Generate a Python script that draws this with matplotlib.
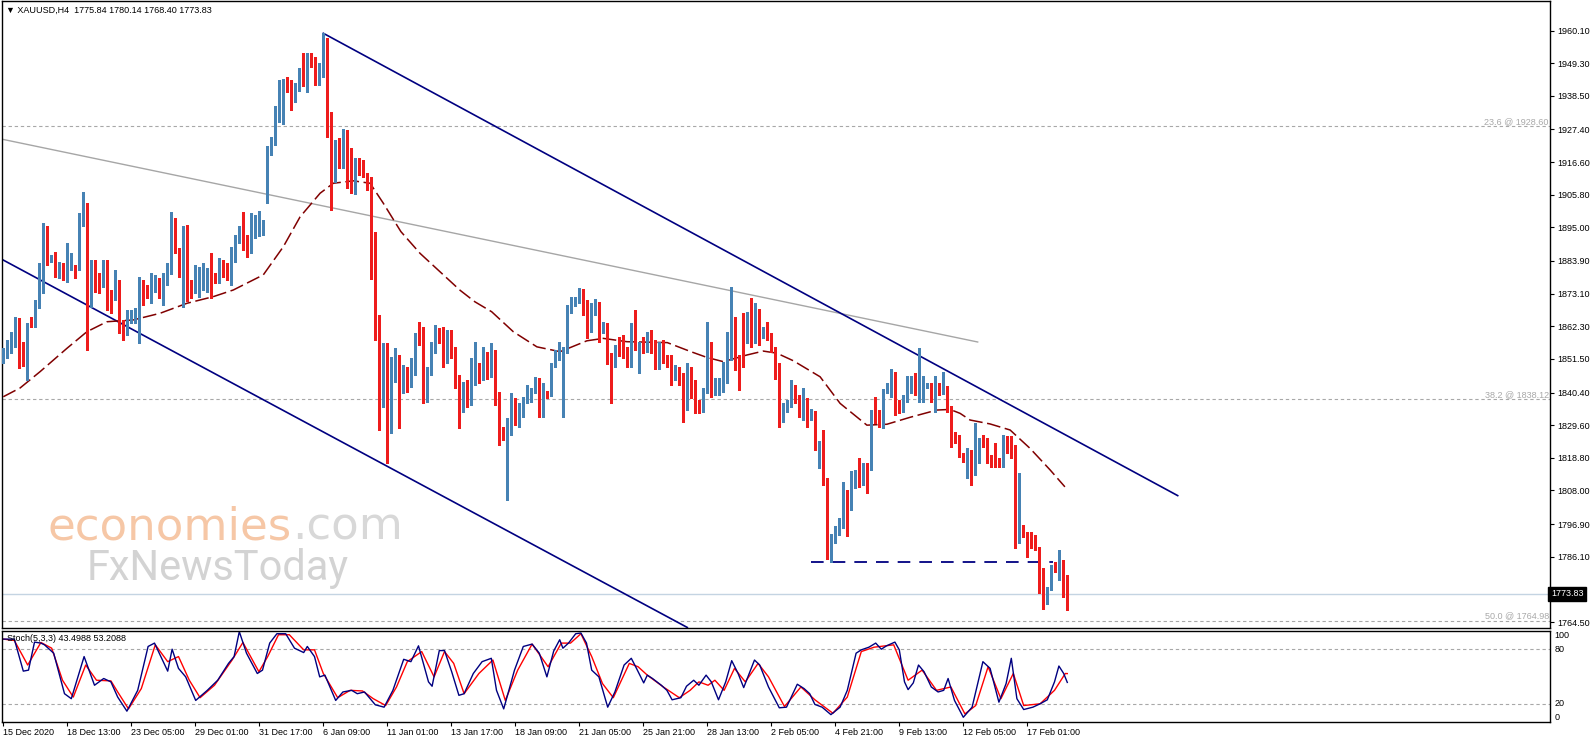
import matplotlib
matplotlib.use("Agg")
import matplotlib.pyplot as plt
import numpy as np

# ---------------- data ----------------
opens = [1851.2,1853.2,1856.7,1856.9,1863.3,1855.0,1855.6,1864.1,1863.3,1868.8,
         1874.9,1892.2,1884.2,1885.9,1879.6,1882.0,1878.7,1881.5,1882.0,1882.0,
         1896.9,1899.7,1869.4,1880.4,1877.1,1876.5,1883.1,1872.7,1872.4,1874.1,
         1862.2,1860.0,1863.8,1864.4,1865.5,1876.5,1874.9,1873.2,1876.5,1877.1,
         1872.1,1876.5,1880.0,1896.4,1887.0,1879.3,1894.2,1876.0,1874.3,1877.6,
         1877.9,1877.6,1878.2,1877.6,1877.6,1882.6,1882.0,1878.7,1887.0,1890.3,
         1894.2,1890.8,1887.0,1892.8,1893.0,1893.0,1903.5,1921.7,1922.8,1933.6,
         1941.6,1943.8,1943.2,1939.4,1940.7,1947.1,1945.4,1951.3,1949.8,1943.8,
         1945.1,1956.8,1932.7,1911.2,1919.5,1915.6,1926.6,1911.5,1909.8,1915.1,
         1914.8,1912.0,1910.7,1890.8,1864.9,1837.9,1848.7,1835.2,1846.2,1852.0,
         1841.8,1846.7,1843.7,1846.7,1859.7,1859.7,1841.2,1846.7,1854.5,1859.4,
         1859.1,1853.9,1858.0,1854.7,1845.1,1839.0,1841.2,1838.5,1844.5,1848.9,
         1845.6,1852.0,1846.2,1853.9,1839.0,1828.2,1827.4,1828.2,1837.9,1832.2,
         1833.3,1837.4,1839.0,1840.3,1844.8,1835.5,1840.7,1840.1,1849.5,1852.0,
         1853.3,1855.0,1868.6,1871.0,1871.2,1874.1,1869.9,1863.8,1867.1,1870.1,
         1860.5,1861.3,1852.0,1850.0,1855.8,1854.5,1854.2,1850.0,1862.7,1855.6,
         1856.9,1855.8,1860.5,1854.7,1848.9,1856.1,1851.7,1851.1,1846.5,1848.1,
         1846.2,1836.8,1844.8,1841.0,1837.4,1836.8,1841.2,1854.5,1840.3,1841.4,
         1842.5,1849.8,1857.2,1864.9,1851.7,1862.7,1861.1,1865.5,1859.7,1863.5,
         1860.2,1860.2,1858.9,1855.0,1848.9,1833.5,1835.2,1837.4,1842.1,1838.5,
         1834.1,1835.2,1833.3,1833.8,1822.5,1823.4,1811.0,1787.0,1791.7,1794.1,
         1796.3,1807.1,1802.1,1809.3,1815.4,1810.4,1815.7,1815.0,1831.6,1831.1,
         1829.7,1840.7,1839.6,1841.5,1836.6,1834.6,1837.7,1841.3,1843.2,1841.0,
         1841.0,1842.1,1842.9,1837.7,1842.1,1840.2,1842.1,1835.0,1825.3,1825.0,
         1819.4,1818.3,1820.3,1813.9,1821.9,1824.7,1824.7,1818.3,1818.3,1818.1,
         1818.6,1823.4,1823.0,1822.5,1790.8,1796.3,1794.0,1793.8,1792.5,1788.9,
         1781.1,1774.5,1775.6,1782.8,1781.7,1784.4,1775.84]
highs = [1855.0,1857.8,1860.5,1865.5,1865.0,1857.2,1863.3,1865.5,1871.0,1883.1,
         1896.4,1895.5,1885.9,1886.7,1883.7,1883.1,1889.7,1886.4,1882.6,1899.7,
         1906.8,1903.0,1884.2,1884.2,1879.8,1884.2,1884.2,1874.3,1880.9,1877.6,
         1864.4,1867.7,1867.7,1868.3,1878.7,1877.6,1876.0,1879.8,1879.3,1878.2,
         1879.8,1883.1,1900.2,1898.0,1888.1,1895.3,1895.8,1877.6,1882.6,1882.0,
         1883.1,1881.5,1886.4,1879.8,1884.8,1884.2,1883.1,1888.6,1892.5,1895.3,
         1900.2,1892.5,1899.7,1899.1,1900.5,1897.5,1921.9,1925.0,1935.2,1943.8,
         1944.0,1944.6,1943.8,1942.7,1947.6,1952.6,1952.6,1952.6,1951.5,1949.3,
         1959.2,1957.5,1933.3,1923.9,1924.4,1927.4,1927.2,1921.1,1917.8,1917.8,
         1917.3,1912.9,1911.8,1893.6,1866.0,1856.7,1856.7,1852.3,1855.0,1852.8,
         1849.5,1848.9,1851.7,1860.2,1863.8,1862.2,1848.9,1857.2,1862.7,1861.6,
         1862.2,1861.1,1861.1,1855.6,1846.2,1844.0,1844.5,1851.7,1857.2,1850.0,
         1855.6,1853.9,1856.7,1854.5,1840.7,1829.1,1831.9,1840.1,1838.5,1836.8,
         1838.8,1842.9,1841.8,1845.4,1845.1,1843.4,1841.0,1850.0,1854.5,1857.2,
         1855.6,1869.3,1872.1,1872.1,1874.8,1874.5,1871.0,1869.9,1871.2,1870.4,
         1863.8,1863.3,1853.4,1856.1,1858.9,1859.4,1855.6,1863.3,1867.7,1857.2,
         1858.9,1860.5,1861.1,1857.8,1857.2,1857.8,1852.8,1852.8,1849.5,1848.9,
         1846.7,1850.3,1848.9,1844.5,1837.9,1841.8,1863.8,1857.2,1845.1,1845.1,
         1850.6,1860.5,1875.4,1865.5,1852.8,1866.8,1867.1,1871.5,1869.9,1867.9,
         1862.2,1863.8,1860.0,1855.6,1850.0,1836.8,1837.9,1844.5,1842.9,1839.6,
         1841.8,1838.5,1834.9,1834.4,1824.2,1828.0,1812.0,1793.5,1796.1,1798.8,
         1810.9,1808.2,1814.3,1814.8,1818.7,1817.2,1817.2,1834.6,1839.0,1834.6,
         1841.5,1843.5,1848.1,1847.3,1837.9,1839.6,1845.7,1845.9,1847.0,1855.0,
         1845.7,1843.5,1843.7,1845.7,1843.7,1847.3,1842.6,1836.0,1827.4,1826.3,
         1820.5,1821.9,1821.4,1830.2,1825.2,1826.3,1825.2,1819.7,1823.6,1818.6,
         1826.3,1826.0,1826.0,1823.0,1813.7,1796.6,1794.4,1794.4,1793.3,1789.4,
         1782.2,1776.2,1783.3,1784.4,1788.3,1785.0,1780.14]
lows = [1850.1,1851.7,1853.4,1855.6,1848.4,1849.0,1844.6,1862.2,1862.2,1868.3,
        1873.2,1882.6,1883.7,1878.5,1878.2,1877.6,1877.1,1880.9,1878.2,1880.9,
        1895.3,1854.5,1868.8,1873.8,1873.2,1875.4,1867.7,1866.6,1871.0,1860.0,
        1857.8,1859.4,1863.3,1863.3,1856.7,1869.4,1871.6,1869.9,1873.8,1871.6,
        1869.4,1876.0,1879.5,1886.4,1878.7,1868.8,1870.5,1871.6,1873.2,1872.1,
        1874.3,1873.8,1871.6,1876.5,1876.5,1878.7,1877.6,1876.0,1883.7,1889.7,
        1887.5,1885.3,1886.4,1891.4,1892.2,1892.5,1903.2,1919.0,1922.3,1930.0,
        1929.2,1939.9,1933.8,1936.6,1940.2,1941.6,1939.9,1948.2,1942.1,1942.1,
        1944.9,1925.0,1900.8,1910.1,1914.5,1914.5,1907.9,1906.5,1906.2,1912.3,
        1911.8,1907.4,1878.1,1857.8,1828.0,1835.7,1817.0,1826.9,1844.0,1828.6,
        1840.1,1840.7,1842.3,1846.2,1856.1,1836.8,1837.4,1846.2,1853.4,1856.7,
        1848.9,1850.0,1851.7,1841.8,1828.6,1834.1,1835.7,1836.3,1842.9,1843.4,
        1844.5,1844.8,1845.5,1836.3,1823.0,1824.7,1804.8,1826.3,1829.7,1829.1,
        1832.4,1836.8,1837.4,1840.1,1832.4,1832.4,1838.5,1839.2,1848.9,1851.1,
        1832.4,1853.6,1866.6,1869.0,1869.9,1866.0,1858.3,1860.5,1866.0,1857.2,
        1860.0,1849.8,1836.8,1848.7,1852.5,1851.7,1848.9,1848.9,1854.5,1846.7,
        1853.4,1853.9,1853.4,1848.1,1848.1,1850.3,1848.9,1842.9,1844.5,1842.9,
        1830.8,1834.6,1838.5,1833.5,1833.5,1834.1,1840.1,1839.0,1839.6,1839.6,
        1840.7,1843.4,1851.1,1847.8,1841.2,1848.9,1856.7,1855.6,1856.7,1856.1,
        1858.3,1857.8,1853.9,1844.8,1829.1,1830.8,1834.1,1835.7,1836.8,1832.4,
        1831.3,1829.1,1831.3,1821.4,1815.4,1809.8,1785.5,1784.5,1790.6,1793.3,
        1795.5,1792.8,1801.6,1808.8,1809.3,1809.8,1807.3,1814.8,1830.2,1829.1,
        1828.6,1840.2,1839.0,1833.0,1833.5,1834.1,1837.4,1840.4,1839.6,1837.4,
        1837.4,1841.8,1837.1,1834.1,1839.6,1839.9,1833.8,1822.5,1823.6,1819.2,
        1817.5,1812.0,1809.8,1813.1,1817.0,1822.5,1817.0,1815.9,1815.9,1815.9,
        1815.9,1820.3,1818.6,1788.9,1790.5,1792.7,1786.1,1788.9,1788.3,1774.0,
        1768.7,1770.4,1775.1,1781.1,1778.4,1772.9,1768.40]
closes = [1853.9,1856.9,1857.2,1863.3,1854.5,1853.9,1861.1,1863.5,1869.4,1874.9,
          1892.2,1884.0,1885.3,1879.8,1882.9,1878.7,1881.8,1882.0,1881.1,1896.9,
          1899.7,1869.4,1880.4,1876.9,1876.5,1883.4,1872.7,1869.4,1874.1,1860.5,
          1858.0,1865.5,1864.4,1865.0,1876.5,1872.7,1873.0,1877.1,1877.1,1872.1,
          1877.1,1879.3,1896.9,1887.0,1879.3,1894.2,1876.0,1873.2,1878.2,1878.2,
          1878.4,1878.2,1877.4,1877.1,1883.1,1881.8,1878.7,1887.5,1890.3,1894.4,
          1890.8,1887.0,1893.0,1893.3,1893.6,1896.9,1921.7,1922.8,1933.6,1941.6,
          1943.5,1942.4,1939.4,1940.7,1947.1,1945.4,1951.3,1949.8,1943.8,1945.1,
          1956.8,1932.7,1911.2,1918.4,1915.6,1926.6,1909.8,1909.8,1915.3,1914.2,
          1912.3,1908.7,1890.8,1864.4,1837.9,1849.5,1835.2,1846.2,1851.7,1841.8,
          1846.7,1842.1,1847.3,1859.7,1859.3,1841.2,1846.7,1854.5,1859.4,1858.6,
          1853.9,1858.0,1854.5,1844.8,1839.0,1841.2,1838.5,1844.5,1848.9,1845.6,
          1852.0,1846.2,1853.9,1839.0,1827.8,1827.8,1828.2,1837.9,1831.9,1833.3,
          1837.7,1839.2,1840.7,1844.8,1835.5,1840.3,1839.9,1849.5,1852.2,1853.9,
          1855.0,1868.6,1871.2,1871.5,1874.1,1869.9,1863.8,1867.5,1869.3,1860.5,
          1861.6,1851.7,1850.0,1855.6,1854.5,1853.6,1850.0,1862.4,1855.0,1856.7,
          1855.6,1860.2,1854.5,1848.9,1856.1,1851.1,1850.3,1847.3,1847.8,1845.9,
          1836.8,1845.1,1840.7,1836.8,1836.8,1841.2,1854.5,1840.1,1841.4,1842.5,
          1849.8,1857.2,1864.9,1851.4,1847.8,1861.1,1865.5,1859.7,1863.5,1861.1,
          1860.5,1858.3,1855.0,1848.9,1834.6,1835.2,1837.4,1842.1,1838.5,1834.1,
          1835.5,1833.5,1833.8,1822.3,1823.6,1810.9,1787.0,1792.2,1794.4,1796.6,
          1807.1,1802.1,1809.5,1813.7,1810.4,1815.7,1815.0,1831.6,1830.8,1829.7,
          1841.3,1841.5,1841.5,1836.3,1834.4,1837.9,1841.5,1843.2,1841.3,1841.5,
          1842.6,1842.6,1837.4,1843.2,1840.2,1842.1,1834.1,1824.7,1824.6,1820.3,
          1818.3,1820.3,1813.9,1821.9,1824.1,1824.1,1818.1,1817.5,1817.5,1817.2,
          1823.0,1822.7,1822.5,1791.1,1796.0,1794.0,1793.3,1792.2,1788.9,1781.1,
          1774.5,1775.6,1782.8,1781.7,1784.4,1775.6,1773.83]

# moving average (dashed maroon), read as (bar, price)
ma_bar = [0, 4.2, 9.2, 15.9, 20.9, 25.9, 32.5, 39.2, 45.9, 52.5, 57.5, 65.0, 70.0,
          74.2, 79.2, 82.5, 87.5, 91.7, 95.0, 99.4, 104.2, 109.2, 114.2, 117.9,
          122.1, 127.5, 133.4, 139.2, 145.9, 150.0, 155.9, 166.0, 171.9, 175.9,
          180.0, 185.9, 190.0, 193.4, 197.5, 204.2, 209.2, 215.9, 220.9, 226.7,
          233.4, 236.7, 239.2, 241.7, 246.7, 251.7, 256.7, 261.7, 265.4]
ma_val = [1839.0, 1841.9, 1847.3, 1855.0, 1860.5, 1863.8, 1864.4, 1866.6, 1869.9,
          1872.1, 1874.3, 1879.3, 1888.6, 1898.5, 1906.3, 1909.6, 1910.4, 1909.6,
          1903.0, 1893.6, 1886.4, 1880.3, 1874.2, 1870.4, 1867.1, 1860.5, 1855.5,
          1853.9, 1857.5, 1858.3, 1857.2, 1856.9, 1853.9, 1852.0, 1850.6, 1852.8,
          1854.1, 1853.4, 1850.9, 1845.6, 1836.8, 1829.6, 1829.9, 1832.2, 1834.6,
          1834.8, 1833.5, 1831.3, 1830.0, 1828.0, 1821.9, 1814.8, 1809.2]

# stochastic %K (navy) and %D (red), read as (bar, value)
k_bar = [0, 2.75, 5.0, 6.3, 7.8, 9.4, 10.3, 12.6, 15.3, 17.0, 20.2, 22.8, 25.1, 26.9,
         28.6, 30.9, 33.6, 36.2, 37.8, 41.1, 42.2, 43.8, 45.6, 48.1, 51.0, 53.6,
         56.3, 57.7, 59.0, 60.8, 63.5, 64.8, 66.6, 68.4, 70.6, 72.8, 75.1, 76.0,
         77.8, 79.1, 80.4, 83.1, 84.9, 87.1, 88.5, 90.3, 93.0, 95.2, 97.4, 100.1,
         101.9, 103.8, 106.3, 107.2, 109.0, 110.3, 112.1, 113.9, 115.2, 117.5,
         119.7, 122.0, 123.3, 125.1, 127.8, 130.0, 132.2, 134.0, 135.9, 137.6,
         139.1, 139.9, 141.3, 143.1, 144.4, 145.8, 147.1, 148.9, 151.1, 152.9,
         155.2, 157.0, 158.3, 160.1, 161.0, 162.3, 164.5, 165.9, 167.2, 169.4,
         170.8, 172.6, 173.9, 175.7, 177.0, 178.8, 180.6, 182.1, 183.7, 185.1,
         187.8, 189.1, 191.3, 194.0, 195.8, 198.5, 200.2, 201.6, 202.9, 204.7,
         206.9, 209.2, 211.0, 213.2, 214.5, 216.4, 218.1, 219.5, 220.8, 222.9,
         224.0, 225.3, 226.2, 227.5, 228.8, 230.2, 232.0, 233.7, 235.1, 236.2,
         237.8, 240.0, 242.2, 244.9, 246.7, 248.9, 250.7, 252.0, 253.4, 255.1,
         257.4, 259.2, 261.0, 262.8, 263.9, 265.1, 266.0]
k_val = [91.1, 91.1, 55.9, 57.0, 87.8, 86.7, 84.8, 75.6, 31.1, 25.6, 71.9, 40.4, 47.8,
         44.1, 27.4, 11.9, 34.8, 83.0, 86.7, 55.9, 80.0, 58.9, 49.6, 23.7, 34.8,
         45.9, 64.4, 71.9, 99.3, 75.6, 53.3, 57.0, 86.7, 97.0, 97.0, 81.1, 76.3,
         83.0, 71.9, 49.6, 51.5, 23.7, 33.0, 34.8, 31.1, 33.0, 18.9, 16.3, 34.8,
         68.9, 66.3, 83.7, 44.1, 39.3, 78.5, 78.5, 55.2, 29.3, 31.1, 53.3, 66.3,
         70.0, 34.8, 14.4, 57.0, 83.0, 85.6, 75.6, 49.6, 78.0, 90.4, 81.1, 86.7,
         97.0, 97.8, 86.7, 57.0, 49.6, 16.3, 33.0, 62.6, 70.0, 58.9, 43.0, 51.5,
         47.8, 40.4, 34.8, 24.4, 26.7, 39.3, 45.9, 40.4, 51.5, 44.1, 24.4, 44.1,
         67.4, 53.3, 37.8, 68.1, 62.6, 38.5, 15.6, 16.3, 41.5, 36.7, 31.1, 19.3,
         16.3, 8.1, 16.3, 34.8, 75.6, 79.3, 82.2, 86.7, 80.0, 83.7, 87.8, 79.3,
         44.1, 35.6, 43.0, 62.6, 55.2, 38.5, 33.0, 34.8, 47.8, 23.7, 5.2, 16.3,
         66.3, 58.9, 21.8, 42.2, 70.0, 25.6, 13.7, 16.3, 20.0, 24.4, 44.1, 61.5,
         53.3, 43.5]
d_bar = [0, 2.75, 6.1, 9.4, 12.1, 14.8, 17.5, 20.6, 23.3, 26.9, 28.6, 31.3, 34.5,
         38.0, 41.1, 43.8, 46.5, 49.2, 52.8, 57.2, 59.9, 63.9, 66.1, 68.8, 71.5,
         75.1, 77.8, 80.0, 83.6, 86.7, 89.8, 92.5, 95.6, 98.3, 101.0, 104.6, 107.7,
         110.3, 112.6, 115.2, 118.9, 122.4, 125.5, 128.6, 132.2, 136.2, 139.5,
         141.8, 144.4, 147.1, 149.8, 152.5, 156.5, 158.7, 161.0, 165.0, 169.0,
         171.7, 173.9, 176.2, 177.9, 180.2, 182.8, 185.5, 188.7, 191.3, 195.3,
         199.4, 202.9, 207.4, 211.0, 214.5, 217.7, 222.6, 226.2, 229.7, 233.3,
         236.9, 240.4, 243.1, 246.2, 249.4, 252.5, 255.1, 259.2, 262.8, 265.5, 266.0]
d_val = [91.1, 89.6, 62.6, 87.4, 81.1, 45.9, 27.4, 62.6, 45.9, 45.2, 33.0, 14.4, 36.7,
         84.8, 66.3, 71.9, 45.9, 26.7, 40.4, 68.1, 87.4, 55.2, 71.9, 95.9, 95.9,
         79.3, 79.3, 53.3, 26.7, 34.8, 34.1, 25.6, 18.1, 38.5, 66.3, 77.4, 49.6,
         77.4, 64.4, 31.1, 53.3, 68.1, 23.7, 57.0, 85.6, 60.7, 86.7, 86.7, 97.0,
         71.9, 42.2, 26.7, 64.4, 60.7, 51.5, 38.5, 26.7, 34.8, 44.1, 40.4, 45.9,
         34.8, 58.9, 44.1, 64.4, 49.6, 17.0, 38.5, 24.4, 9.6, 27.4, 77.4, 82.2,
         84.8, 45.9, 57.0, 34.8, 38.5, 8.9, 18.1, 60.7, 25.6, 53.3, 18.1, 20.0,
         34.8, 53.3, 53.2]

# drawn objects (bar, price)
channel_upper = ([80.0, 293.6], [1959.2, 1806.3])
channel_lower = ([-1.0, 171.0], [1884.9, 1762.7])
gray_trend = ([-0.8, 243.6], [1924.3, 1857.1])
support_level = 1784.4
support_span = (202.0, 262.5)
fib_levels = [1928.60, 1838.12, 1764.98]
fib_names = ["23.6 @ 1928.60", "38.2 @ 1838.12", "50.0 @ 1764.98"]
last_price = 1773.83

price_ticks = [1960.10, 1949.30, 1938.50, 1927.40, 1916.60, 1905.80, 1895.00, 1883.90,
               1873.10, 1862.30, 1851.50, 1840.40, 1829.60, 1818.80, 1808.00, 1796.90,
               1786.10, 1775.30, 1764.50]
hidden_tick = 1775.30   # label covered by the last-price box in the reference
time_ticks = [0, 16, 32, 48, 64, 80, 96, 112, 128, 144, 160, 176, 192, 208, 224, 240, 256]
time_labels = ["15 Dec 2020", "18 Dec 13:00", "23 Dec 05:00", "29 Dec 01:00", "31 Dec 17:00",
               "6 Jan 09:00", "11 Jan 01:00", "13 Jan 17:00", "18 Jan 09:00", "21 Jan 05:00",
               "25 Jan 21:00", "28 Jan 13:00", "2 Feb 05:00", "4 Feb 21:00", "9 Feb 13:00",
               "12 Feb 05:00", "17 Feb 01:00"]
header = "\u25BC XAUUSD,H4  1775.84 1780.14 1768.40 1773.83"
stoch_title = "Stoch(5,3,3) 43.4988 53.2088"

# ---------------- figure ----------------
W, H = 1596, 743
FONT = ["Liberation Sans", "DejaVu Sans"]
plt.rcParams["font.family"] = FONT
fig = plt.figure(figsize=(W / 100, H / 100), dpi=100)
fig.patch.set_facecolor("white")

L_PX, R_PX = 2, 1550
ax = fig.add_axes([L_PX / W, 1 - 628 / H, (R_PX - L_PX) / W, (628 - 1) / H])
axs = fig.add_axes([L_PX / W, 1 - 722 / H, (R_PX - L_PX) / W, (722 - 631) / H])

XLIM = (-0.325, 386.675)
ax.set_xlim(*XLIM)
ax.set_ylim(1762.52, 1969.87)
axs.set_xlim(*XLIM)
axs.set_ylim(0, 100)

BULL = "#4682b4"
BEAR = "#ee1c1c"
NAVY = "#000080"

# watermark
renderer = fig.canvas.get_renderer()
t_eco = ax.text(46 / 1548, 1 - 539 / 627, "economies", transform=ax.transAxes, fontsize=32.5,
                family="DejaVu Sans", color="#f6c7a6", va="baseline", ha="left", zorder=0)
bb = t_eco.get_window_extent(renderer)
x_next = ax.transAxes.inverted().transform((bb.x1, bb.y0))[0]
ax.text(x_next, 1 - 539 / 627, ".com", transform=ax.transAxes, fontsize=32.5,
        family="DejaVu Sans", color="#d8d8d8", va="baseline", ha="left", zorder=0)
ax.text(85 / 1548, 1 - 579 / 627, "FxNewsToday", transform=ax.transAxes, fontsize=30,
        family="Roboto", color="#d3d3d3", va="baseline", ha="left", zorder=0)

# fib levels + current price line
for lvl, name in zip(fib_levels, fib_names):
    ax.axhline(lvl, color="#a8a8a8", lw=0.8, ls=(0, (3, 2.5)), zorder=1)
    ax.text(0.9992, lvl, name, transform=ax.get_yaxis_transform(), ha="right",
            va="bottom", fontsize=6.5, color="#a8a8a8", zorder=1)
ax.axhline(last_price, color="#c4d4e2", lw=1.0, zorder=1)

# trend lines
ax.plot(*gray_trend, color="#a6a6a6", lw=1.0, zorder=2)
ax.plot(*channel_upper, color=NAVY, lw=1.2, zorder=2)
ax.plot(*channel_lower, color=NAVY, lw=1.2, zorder=2)
ax.hlines(support_level, *support_span, colors=NAVY, lw=1.3, linestyles=(0, (7, 5)), zorder=2)

# moving average
ax.plot(ma_bar, ma_val, color="#800000", lw=1.1, ls=(0, (9, 3)), zorder=3)

# candles
o = np.array(opens); h = np.array(highs); l = np.array(lows); c = np.array(closes)
idx = np.arange(len(o))
up = c >= o
cols = np.where(up, BULL, BEAR)
ax.vlines(idx, l, h, colors=cols, lw=1.0, antialiased=False, zorder=4)
body = np.maximum(np.abs(c - o), 0.33)
ax.bar(idx, body, bottom=np.minimum(o, c), width=0.75, color=cols, lw=0,
       antialiased=False, zorder=5)

# price axis
ax.yaxis.tick_right()
ax.set_yticks(price_ticks)
ax.set_yticklabels(["" if v == hidden_tick else f"{v:.2f}" for v in price_ticks])
ax.tick_params(axis="y", length=3, width=0.8, pad=2, labelsize=6.5, colors="black")
ax.set_xticks([])
ax.text(1.0006, last_price, "1773.83", transform=ax.get_yaxis_transform(), ha="left",
        va="center", fontsize=6.5, color="white", zorder=10, clip_on=False,
        bbox=dict(boxstyle="square,pad=0.3", fc="black", ec="black"))

for a in (ax, axs):
    for s in a.spines.values():
        s.set_color("black")
        s.set_linewidth(1.0)

# stochastic panel
axs.axhline(80, color="#a8a8a8", lw=0.8, ls=(0, (3, 2.5)))
axs.axhline(20, color="#a8a8a8", lw=0.8, ls=(0, (3, 2.5)))
axs.plot(d_bar, d_val, color="#ff0000", lw=1.0)
axs.plot(k_bar, k_val, color=NAVY, lw=1.0)
axs.text(5 / 1548, 1 - 3 / 91, stoch_title, transform=axs.transAxes, fontsize=6.5,
         va="top", ha="left", color="black")
axs.set_yticks([])
for v, va in ((100, "top"), (80, "center"), (20, "center"), (0, "bottom")):
    axs.text(1.003, v, str(v), transform=axs.get_yaxis_transform(), ha="left", va=va,
             fontsize=6.5, color="black", clip_on=False)
axs.set_xticks(time_ticks)
axs.set_xticklabels(time_labels)
for t in axs.get_xticklabels():
    t.set_ha("left")
axs.tick_params(axis="x", length=3, width=0.8, pad=1.5, labelsize=6.5, colors="black")

fig.text(6 / W, 1 - 10 / H, header, fontsize=6.5, va="center", ha="left", color="black")

fig.savefig("out.png", dpi=100, facecolor="white")
